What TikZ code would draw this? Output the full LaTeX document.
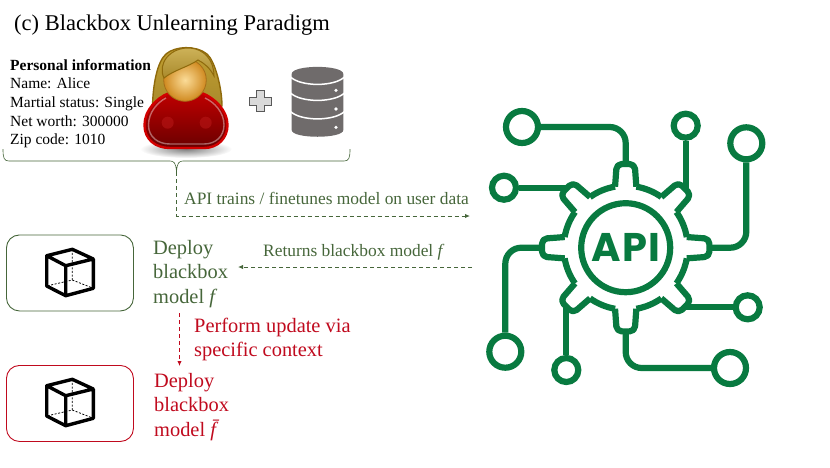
\documentclass[tikz,border=0pt]{standalone}
\usepackage{fontspec}
\setmainfont{Liberation Serif}
\newfontfamily\apifont{Poppins}[LetterSpace=3]
\usetikzlibrary{arrows.meta,shadings,fadings}
\definecolor{apigreen}{HTML}{087A40}
\definecolor{dkgreen}{HTML}{46663A}
\definecolor{dkred}{HTML}{C00A1E}
\definecolor{dbgray}{HTML}{6F6B6B}
\definecolor{hairline}{HTML}{8F6A0C}
\definecolor{hairA}{HTML}{C2A030}
\definecolor{hairB}{HTML}{A98A2C}
\definecolor{faceA}{HTML}{FBDC98}
\definecolor{faceB}{HTML}{D08A20}
\definecolor{bodyA}{HTML}{BE0000}
\definecolor{bodyB}{HTML}{6A0000}
\definecolor{bodyline}{HTML}{D20000}
\tikzset{
  apiline/.style={draw=apigreen,line width=6.2pt,line join=round},
  port/.style={circle,draw=apigreen,line width=6.2pt,inner sep=0pt,fill=white},
  portS/.style={port,minimum size=24pt},
  portL/.style={port,minimum size=32pt},
  dashG/.style={draw=dkgreen,line width=1pt,dash pattern=on 4pt off 3pt,-{Latex[length=5pt,width=4.5pt]}},
  dashR/.style={draw=dkred,line width=1pt,dash pattern=on 4pt off 3pt,-{Latex[length=5pt,width=4.5pt]}},
  modelbox/.style={rounded corners=13pt,line width=.9pt,minimum width=127pt,minimum height=76pt,inner sep=0pt},
  lbl/.style={anchor=west,inner sep=0pt,font=\fontsize{17.4}{20}\selectfont},
  big/.style={anchor=north west,inner sep=0pt,align=left,font=\fontsize{20.4}{24.5}\selectfont},
  cube/.pic={
    \draw[black,line width=3.4pt,line join=round] (46.7,255.7)--(72.3,249.3)--(93.3,259)--(65.7,265.7)--cycle
      (46.7,255.7)--(46.7,286)--(65.7,295.7)--(93.3,288.3)--(93.3,259) (65.7,265.7)--(65.7,295.7);
    \draw[black,line width=.8pt,dash pattern=on 2pt off 1.6pt] (72.3,249.3)--(72.3,280)--(46.7,286) (72.3,280)--(93.3,288.3);
  }
}
\begin{document}
\begin{tikzpicture}[x=1pt,y=-1pt]
\useasboundingbox (0,0) rectangle (830,467);
% title
\node[anchor=west,inner sep=0pt,font=\fontsize{22.5}{26}\selectfont] (title) at (14,25) {(c) Blackbox Unlearning Paradigm};
% user
\shade[inner color=black!50,outer color=white] (186,149) ellipse (46 and 9);
\draw[draw=hairline,line width=1.4pt,top color=hairA,bottom color=hairB]
  (152.5,106) .. controls (153,85) and (157,62) .. (166,54) .. controls (175,46) and (196,45) .. (207,54)
  .. controls (215,61) and (222,88) .. (222,106) -- cycle;
\draw[draw=bodyline,line width=2.4pt,top color=bodyA,bottom color=bodyB]
  (168,93.5) .. controls (157,98) and (144.5,110) .. (144.5,125) .. controls (144.5,140) and (156,148) .. (170,148)
  -- (204,148) .. controls (218,148) and (227.5,138) .. (227.5,125) .. controls (227.5,110) and (214,98) .. (203,93.5) -- cycle;
\draw[draw=white,draw opacity=.4,line width=1.4pt]
  (166,98) .. controls (158,102) and (148.5,112) .. (148.5,125) .. controls (148.5,137) and (158,144) .. (170,144)
  -- (204,144) .. controls (216,144) and (224,136) .. (224,125) .. controls (224,112) and (214,102) .. (205,98);
\fill[red!70!black!90!white,opacity=.55] (167.7,122.7) circle (6);
\fill[red!70!black!90!white,opacity=.55] (205.7,122.7) circle (6);
\draw[draw=faceB!80!black,line width=.8pt,shading=radial,inner color=faceA,outer color=faceB] (185,80) circle (21.3);
\draw[draw=hairline,line width=1pt,top color=hairA!80!white,bottom color=hairB]
  (164,78) .. controls (157,64) and (170,47) .. (190,48) .. controls (204,49) and (214,60) .. (214,76)
  .. controls (210,68) and (204,63) .. (198,60) .. controls (188,67) and (174,70) .. (164,78) -- cycle;
% personal info
\node[anchor=north west,inner sep=0pt,align=left,font=\fontsize{15.5}{18.7}\selectfont] (info) at (10,59)
 {\textbf{Personal information}\\Name: Alice\\Martial status: Single\\Net worth: 300000\\Zip code: 1010};
% plus
\path[draw=black!65,fill=black!15,line width=.8pt] (256,90)--(264,90)--(264,97)--(271,97)--(271,105)--(264,105)--(264,111.5)--(256,111.5)--(256,105)--(249.5,105)--(249.5,97)--(256,97)--cycle;
% database
\fill[dbgray] (291.7,74) .. controls (291.7,64.5) and (343.3,64.5) .. (343.3,74) -- (343.3,130)
   .. controls (343.3,139) and (291.7,139) .. (291.7,130) -- cycle;
\draw[white,line width=1.5pt] (290,76.5) .. controls (300,87) and (335,87) .. (345,76.5);
\draw[white,line width=1.5pt] (290,92.5) .. controls (300,103) and (335,103) .. (345,92.5);
\draw[white,line width=1.5pt] (290,111) .. controls (300,121.5) and (335,121.5) .. (345,111);
\fill[white] (336,90.3) circle (1.8) (336,109) circle (1.8) (336,127.3) circle (1.8);
% brace
\coordinate (bt) at (176.5,172);
\draw[dkgreen,line width=.6pt] (3,149) .. controls (3,158) and (4,161) .. (9,161) -- (170,161) .. controls (174,161) and (176,163) .. (176.5,172)
  .. controls (177,163) and (179,161) .. (183,161) -- (344,161) .. controls (349,161) and (350,158) .. (350,149);
\coordinate (a1) at (470,216);
\draw[dashG] (bt) |- (a1);
\node[lbl,text=dkgreen] (t1) at (184,198) {API trains / finetunes model on user data};
% boxes
\node[modelbox,draw=dkgreen,anchor=north west] (b1) at (6,234.5) {};
\node[modelbox,draw=dkred,anchor=north west] (b2) at (6,365) {};
\pic at (0,0) {cube};
\pic at (0,130) {cube};
\node[big,text=dkgreen] (d1) at (153,240) {Deploy\\blackbox\\model \textit{f}};
\node[big,text=dkred] (d2) at (154,373) {Deploy\\blackbox\\model \textit{f\char"0304}};
\coordinate (r1) at (472,267);
\coordinate (r2) at (238,267);
\draw[dashG] (r1) -- (r2);
\node[lbl,text=dkgreen] (t2) at (263,252) {Returns blackbox model \textit{f}};
\coordinate (u1) at (179.5,313);
\coordinate (u2) at (179.5,366);
\draw[dashR] (u1) -- (u2);
\node[big,text=dkred] (t3) at (194,317.5) {Perform update via\\specific context};
% API
\begin{scope}[shift={(625.7,247.7)},x=.3333pt,y=.3333pt]
  \foreach \a in {0,45,...,315}{
    \begin{scope}[rotate=\a]
      \draw[apiline] (-32,183) [rounded corners=5pt] -- (-27,251) -- (27,251) [sharp corners] -- (32,183);
      \draw[apiline] (80.1:186) arc[start angle=80.1,end angle=54.9,radius=186];
    \end{scope}
  }
  \coordinate (gN) at (0,251);
  \coordinate (gS) at (0,-251);
  \coordinate (gE) at (251,0);
  \coordinate (gW) at (-251,0);
  \coordinate (gNE) at (180,178);
  \coordinate (gNW) at (-178,180);
  \coordinate (gSE) at (178,-179);
  \coordinate (gSW) at (-178,-178);
\end{scope}
\node[circle,draw=apigreen,line width=6.2pt,minimum size=89pt,inner sep=0pt] (hub) at (625.7,247.7) {};
\node[text=apigreen,inner sep=0pt,font=\apifont\fontsize{40}{40}\selectfont\bfseries] (apitxt) at (625.7,247.7) {API};
\node[portL] (c1) at (522,127) {};
\node[portS] (c2) at (685.7,125.7) {};
\node[portL] (c3) at (746.3,143.3) {};
\node[portS] (c4) at (504,187.7) {};
\node[portS] (c5) at (747.7,307.3) {};
\node[portL] (c6) at (505.3,351.7) {};
\node[portS] (c7) at (566.3,370) {};
\node[portL] (c8) at (730,368) {};
\draw[apiline,rounded corners=16pt] (c1) -| (gN);
\draw[apiline] (c2) -- (c2 |- gNE);
\draw[apiline,rounded corners=16pt] (c3) |- (gE);
\draw[apiline] (c4) -- (c4 -| gNW);
\draw[apiline] (c5) -- (c5 -| gSE);
\draw[apiline,rounded corners=16pt] (c6) |- (gW);
\draw[apiline] (c7) -- (c7 |- gSW);
\draw[apiline,rounded corners=16pt] (c8) -| (gS);
\end{tikzpicture}
\end{document}
